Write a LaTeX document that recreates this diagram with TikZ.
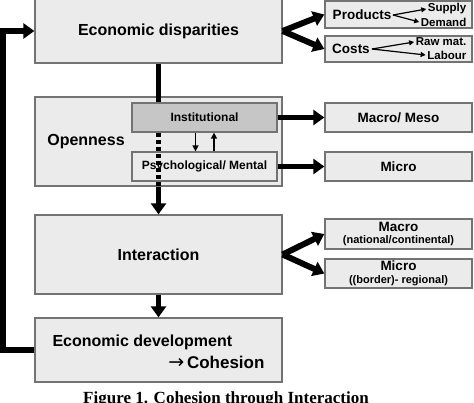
\documentclass[tikz,border=0pt]{standalone}
\usepackage{fontspec}
\setmainfont{Liberation Serif}
\setsansfont{Liberation Sans}
\newfontfamily\arrowfont{DejaVu Sans}
\usetikzlibrary{arrows.meta, positioning}

\definecolor{boxfill}{RGB}{235,235,235}
\definecolor{instfill}{RGB}{198,198,198}
\definecolor{boxline}{RGB}{115,115,115}

\tikzset{
  box/.style={draw=boxline, line width=1.3pt, fill=boxfill, inner sep=0pt, font=\sffamily\bfseries},
  bigbox/.style={box, minimum width=247pt},
  sidebox/.style={box, minimum width=147pt},
  fatline/.style={line width=5pt},
  fatarrow/.style={line width=5pt, -{Triangle[length=11pt,width=15pt]}},
  midarrow/.style={line width=1.8pt, -{Triangle[length=6pt,width=6pt]}},
  thinarrow/.style={line width=1.2pt, -{Triangle[length=5pt,width=5pt]}},
  smalltxt/.style={font=\sffamily\bfseries\fontsize{11.5}{12}\selectfont, inner sep=1.5pt},
}

\begin{document}
\begin{tikzpicture}[x=1pt, y=-1pt]
  \useasboundingbox (0,0) rectangle (474,402);

  % main column
  \node[bigbox, minimum height=64pt, font=\sffamily\bfseries\fontsize{16}{18}\selectfont] (ed) at (158.5,31) {Economic disparities};
  \node[bigbox, minimum height=89pt] (open) at (158.5,141.5) {};
  \node[font=\sffamily\bfseries\fontsize{16}{18}\selectfont] (opentxt) at (86,142) {Openness};
  \node[box, fill=instfill, minimum width=145pt, minimum height=29pt, font=\sffamily\bfseries\fontsize{12}{14}\selectfont] (inst) at (204.5,117.5) {Institutional};
  \node[box, minimum width=145pt, minimum height=29pt, font=\sffamily\bfseries\fontsize{12}{14}\selectfont] (psy) at (204.5,166.5) {Psychological/ Mental};
  \node[bigbox, minimum height=79pt, font=\sffamily\bfseries\fontsize{16}{18}\selectfont] (inter) at (158.5,254.5) {Interaction};
  \node[bigbox, minimum height=64pt] (dev) at (158.5,350) {};
  \node[anchor=west, font=\sffamily\bfseries\fontsize{16}{18}\selectfont] (devtxt) at (49,342) {Economic development};
  \node[anchor=east, font=\sffamily\bfseries\fontsize{17}{18}\selectfont] (cohtxt) at (268,362) {{\arrowfont\mdseries\fontsize{19}{16}\selectfont →}\,Cohesion};

  % right column
  \node[sidebox, minimum height=27pt] (prod) at (398.5,14.5) {};
  \node[sidebox, minimum height=26pt] (costs) at (398.5,49) {};
  \node[sidebox, minimum height=29pt, font=\sffamily\bfseries\fontsize{13.5}{14}\selectfont] (mm) at (398.5,117.5) {Macro/ Meso};
  \node[sidebox, minimum height=29pt, font=\sffamily\bfseries\fontsize{13.5}{14}\selectfont] (mic) at (398.5,166.5) {Micro};
  \node[sidebox, minimum height=30pt, align=center, font=\sffamily\bfseries\fontsize{13.5}{12.5}\selectfont] (mac2) at (398.5,234) {Macro\\{\fontsize{11}{12}\selectfont(national/continental)}};
  \node[sidebox, minimum height=29pt, align=center, font=\sffamily\bfseries\fontsize{13.5}{12.5}\selectfont] (mic2) at (398.5,273.5) {Micro\\{\fontsize{11}{12}\selectfont((border)- regional)}};

  % texts in the small boxes
  \node[font=\sffamily\bfseries\fontsize{13.5}{14}\selectfont, inner sep=1.5pt] (prodtxt) at (362,15) {Products};
  \node[smalltxt, anchor=east] (sup) at (468,9) {Supply};
  \node[smalltxt, anchor=east] (dem) at (468,22) {Demand};
  \node[font=\sffamily\bfseries\fontsize{13.5}{14}\selectfont, inner sep=2pt] (coststxt) at (351,49) {Costs};
  \node[smalltxt, anchor=east] (raw) at (468,42) {Raw mat.};
  \node[smalltxt, anchor=east] (lab) at (468,55) {Labour};

  \draw[thinarrow] (prodtxt.east) -- (sup.west);
  \draw[thinarrow] (prodtxt.east) -- (dem.west);
  \draw[thinarrow] (coststxt.east) -- (raw.west);
  \draw[thinarrow] (coststxt.east) -- (lab.west);

  % vertical flow
  \draw[fatline] (ed.south) -- (ed.south |- inst.north);
  \draw[fatline, dash pattern=on 4pt off 3pt] (ed.south |- inst.south) -- (ed.south |- open.south);
  \draw[fatarrow] (ed.south |- open.south) -- (inter.north);
  \draw[fatarrow] (inter.south) -- (dev.north);

  % between institutional and psychological
  \draw[midarrow] ([xshift=-9pt]inst.south) -- ([xshift=-9pt]psy.north);
  \draw[midarrow] ([xshift=9.5pt]psy.north) -- ([xshift=9.5pt]inst.south);

  % to the right
  \draw[fatarrow, line width=6pt] (ed.east) -- (prod.west);
  \draw[fatarrow, line width=6pt] (ed.east) -- (costs.west);
  \draw[fatarrow] (inst.east) -- (mm.west);
  \draw[fatarrow] (psy.east) -- (mic.west);
  \draw[fatarrow, line width=6pt] (inter.east) -- (mac2.west);
  \draw[fatarrow, line width=6pt] (inter.east) -- (mic2.west);

  % feedback loop
  \coordinate (loopx) at (3,0);
  \draw[fatarrow, line width=6pt] (dev.west) -- (dev.west -| loopx) |- (ed.west);

  % caption
  \node[anchor=base, font=\bfseries\fontsize{17}{20}\selectfont] (caption) at (226,403) {Figure 1. Cohesion through Interaction};
\end{tikzpicture}
\end{document}
